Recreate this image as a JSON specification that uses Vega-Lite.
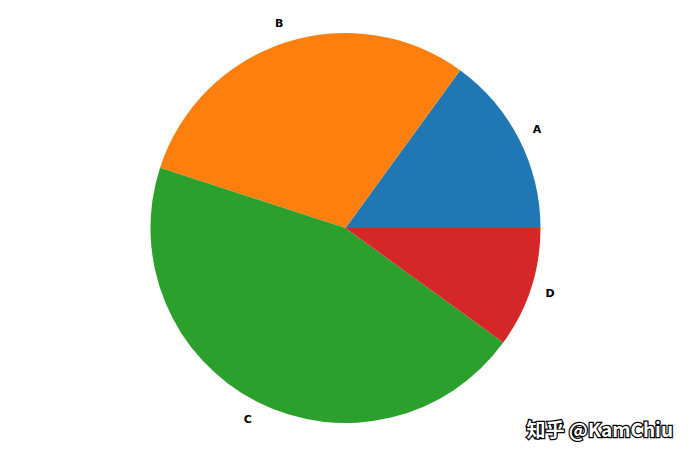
{
  "$schema": "https://vega.github.io/schema/vega-lite/v6.json",
  "width": 691,
  "height": 456,
  "padding": 0,
  "autosize": {"type": "fit", "contains": "padding"},
  "background": "white",
  "data": {
    "values": [
      {"label": "A", "share": 15},
      {"label": "B", "share": 30},
      {"label": "C", "share": 45},
      {"label": "D", "share": 10}
    ]
  },
  "encoding": {
    "theta": {
      "field": "share",
      "type": "quantitative",
      "stack": true,
      "scale": {"range": [1.5708, 7.854]}
    },
    "order": {"field": "label", "type": "nominal", "sort": "descending"}
  },
  "layer": [
    {
      "mark": {"type": "arc", "outerRadius": 195},
      "encoding": {
        "color": {
          "field": "label",
          "type": "nominal",
          "scale": {
            "domain": ["A", "B", "C", "D"],
            "range": ["#1f77b4", "#ff7f0e", "#2ca02c", "#d62728"]
          },
          "legend": null
        }
      }
    },
    {
      "mark": {
        "type": "text",
        "radius": 215,
        "font": "DejaVu Sans",
        "fontSize": 11,
        "fontWeight": "bold",
        "color": "black"
      },
      "encoding": {
        "text": {"field": "label", "type": "nominal"}
      }
    },
    {
      "data": {"values": [{"mark": "知乎 @KamChiu"}]},
      "mark": {
        "type": "text",
        "align": "right",
        "baseline": "alphabetic",
        "dx": -18,
        "dy": -19,
        "font": "Noto Sans CJK SC",
        "fontSize": 19,
        "fontWeight": "bold",
        "fill": "white",
        "stroke": "black",
        "strokeWidth": 2.5
      },
      "encoding": {
        "x": {"value": "width"},
        "y": {"value": "height"},
        "text": {"field": "mark", "type": "nominal"},
        "theta": null,
        "order": null
      }
    },
    {
      "data": {"values": [{"mark": "知乎 @KamChiu"}]},
      "mark": {
        "type": "text",
        "align": "right",
        "baseline": "alphabetic",
        "dx": -18,
        "dy": -19,
        "font": "Noto Sans CJK SC",
        "fontSize": 19,
        "fontWeight": "bold",
        "fill": "white"
      },
      "encoding": {
        "x": {"value": "width"},
        "y": {"value": "height"},
        "text": {"field": "mark", "type": "nominal"},
        "theta": null,
        "order": null
      }
    }
  ],
  "config": {"view": {"stroke": null}}
}
